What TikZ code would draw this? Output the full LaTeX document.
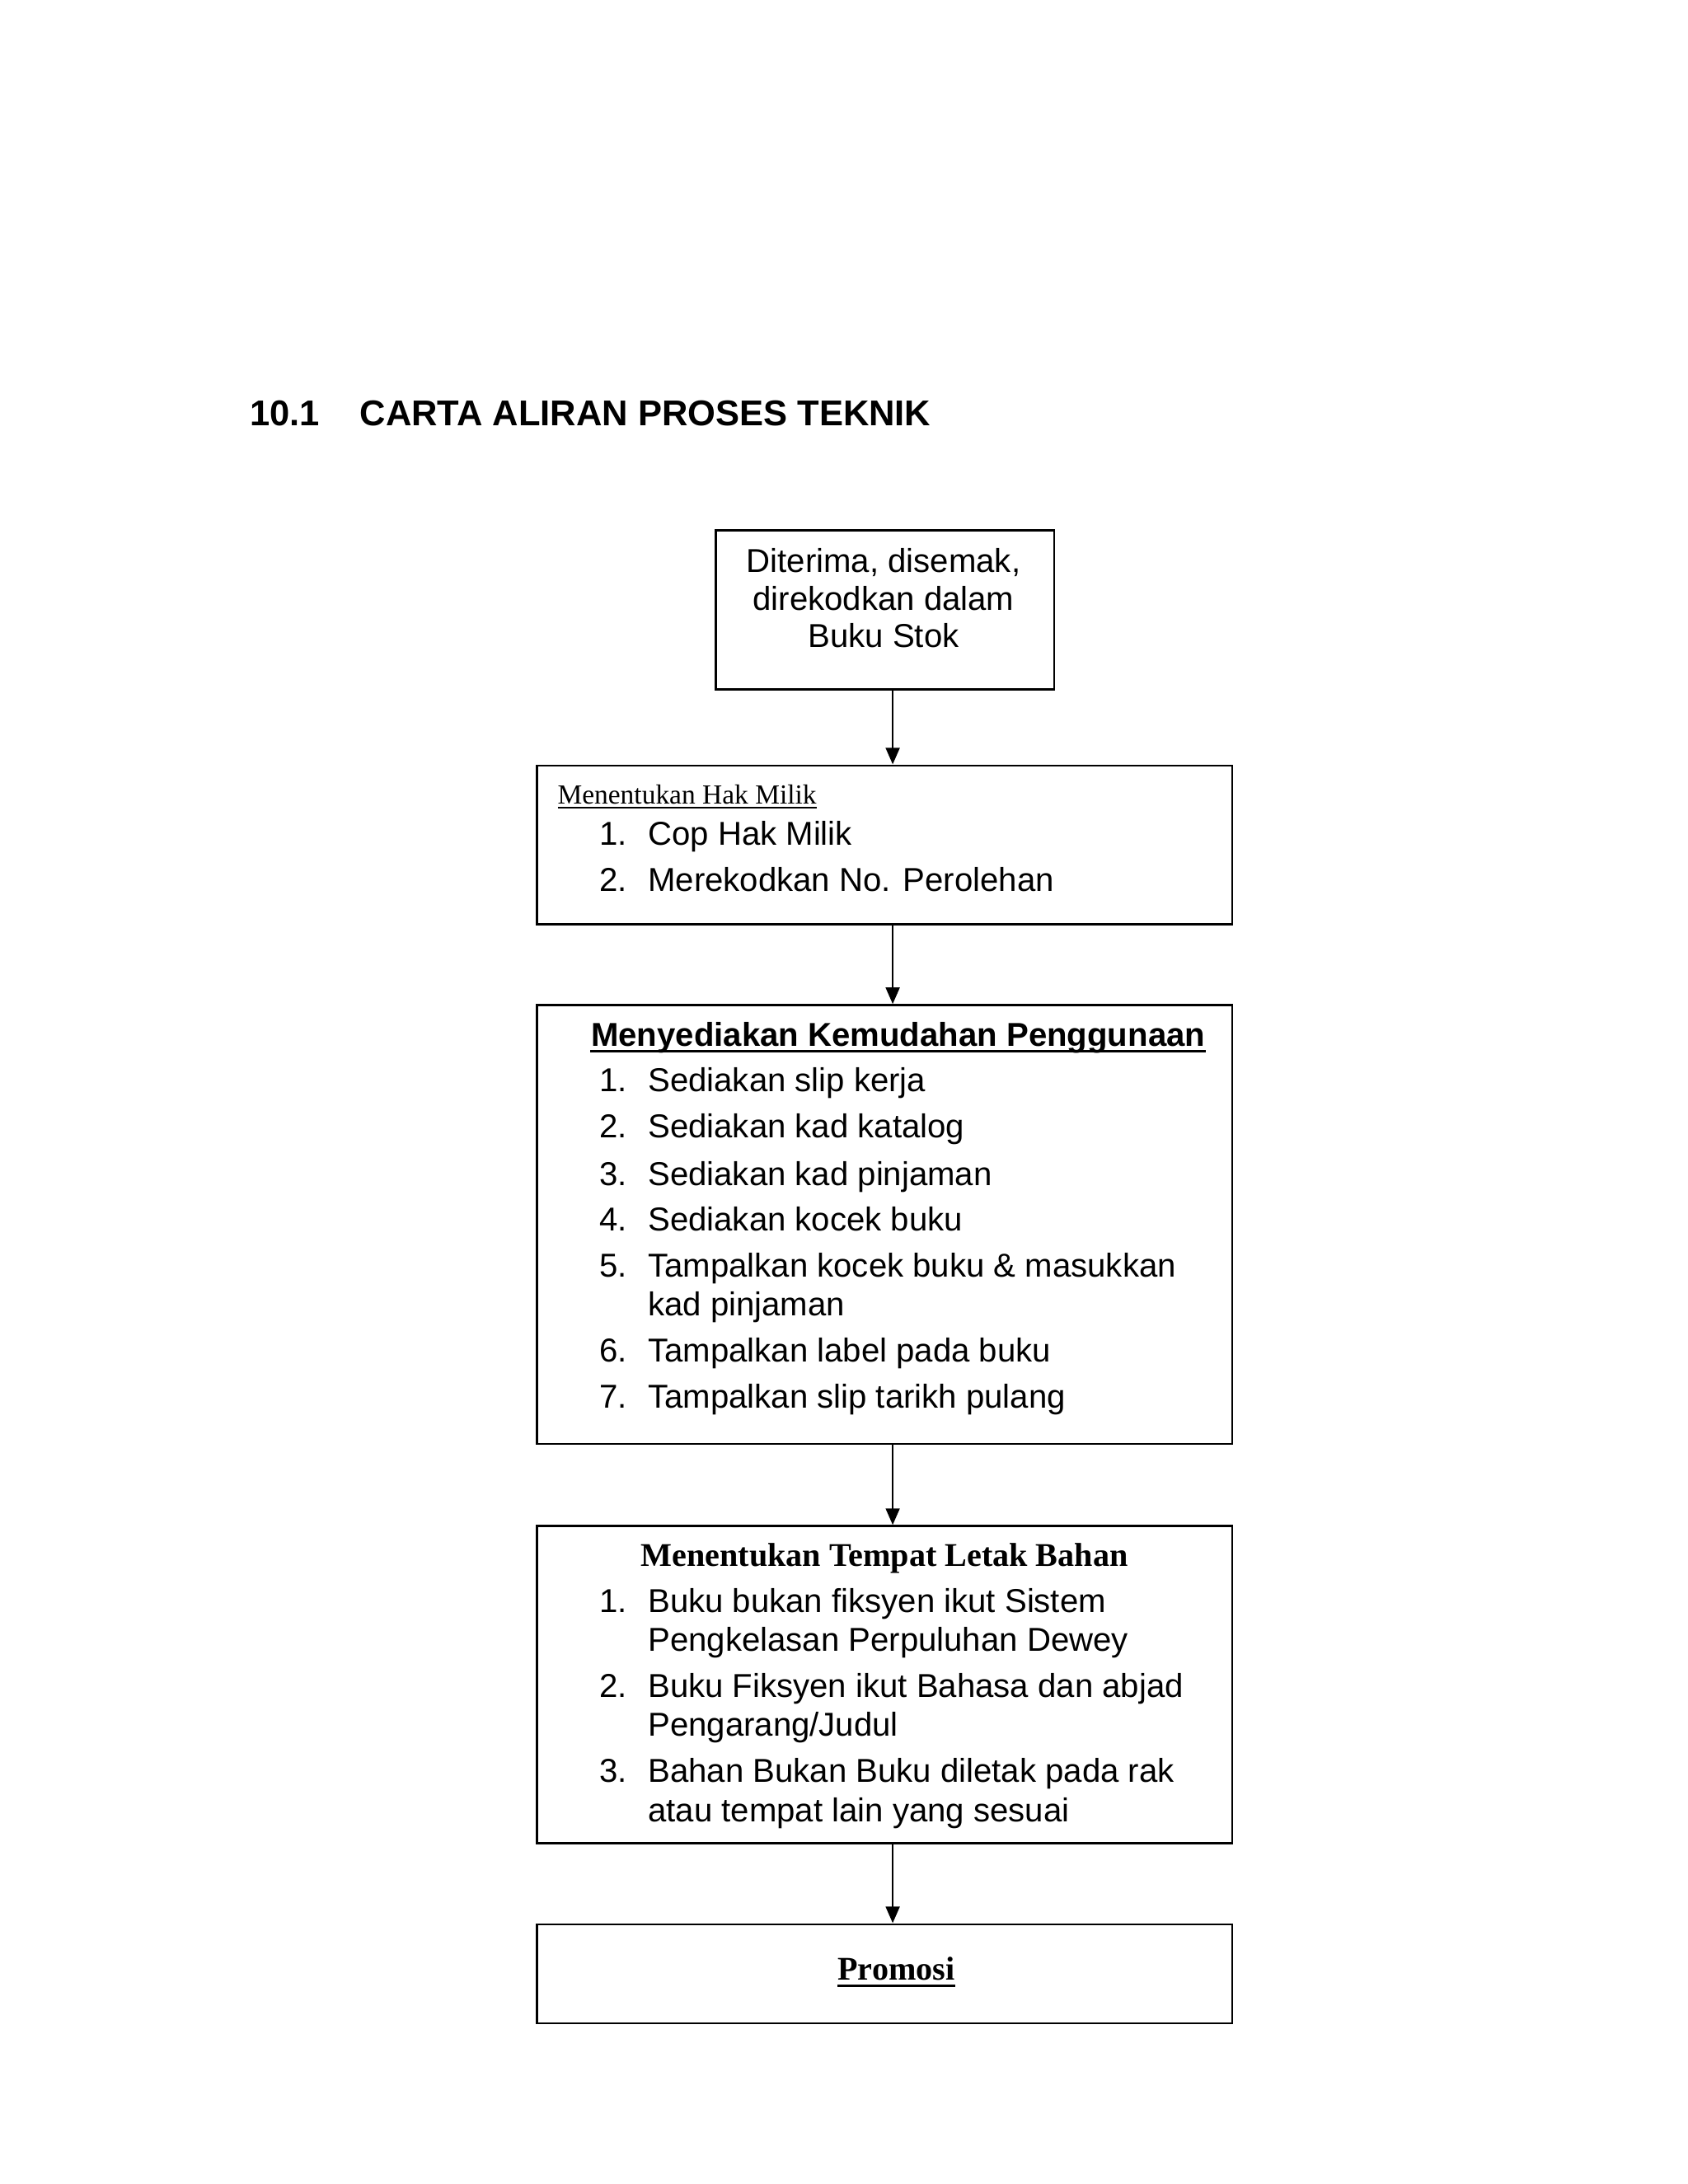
\documentclass[tikz,border=0pt]{standalone}
\usepackage{fontspec}
\newfontfamily\fsans{Liberation Sans}
\newfontfamily\fserif{Liberation Serif}
\usetikzlibrary{arrows.meta}
\begin{document}
\begin{tikzpicture}[x=1pt,y=-1pt,
  box/.style={draw, line width=0.8pt, inner sep=0pt, anchor=north west},
  txt/.style={anchor=base west, inner sep=0pt, font=\fsans\fontsize{12}{14}\selectfont},
  ctxt/.style={anchor=base, inner sep=0pt, font=\fsans\fontsize{12}{14}\selectfont},
  uline/.style={line width=0.7pt},
  arr/.style={line width=0.8pt, -{Triangle[length=6pt,width=5pt]}}]
\useasboundingbox (0,0) rectangle (612,792);
\fill[white] (0,0) rectangle (612,792);
% title
\node[txt, font=\fsans\bfseries\fontsize{13}{15}\selectfont] (tnum) at (90.4,154.5) {10.1};
\node[txt, font=\fsans\bfseries\fontsize{13}{15}\selectfont] (ttl) at (130.3,154.5) {CARTA ALIRAN PROSES TEKNIK};
% boxes
\node[box, minimum width=122.7pt, minimum height=57.6pt] (b1) at (259.1,191.9) {};
\node[box, minimum width=252pt, minimum height=57.6pt] (b2) at (194.4,277.2) {};
\node[box, minimum width=252pt, minimum height=159.1pt] (b3) at (194.4,364.1) {};
\node[box, minimum width=252pt, minimum height=115.1pt] (b4) at (194.4,553.0) {};
\node[box, minimum width=252pt, minimum height=35.9pt] (b5) at (194.4,697.4) {};
% box 1 text
\node[ctxt] (b1l1) at (320.4,207.6) {Diterima, disemak,};
\node[ctxt] (b1l2) at (320.4,221.2) {direkodkan dalam};
\node[ctxt] (b1l3) at (320.4,234.8) {Buku Stok};
% box 2 text
\node[txt, font=\fserif\fontsize{10}{12}\selectfont] (b2h) at (202,291.4) {\underline{Menentukan Hak Milik}};
\node[txt] (b2n1) at (217.2,306.5) {1.};
\node[txt] (b2t1) at (234.8,306.5) {Cop Hak Milik};
\node[txt] (b2n2) at (217.2,323.2) {2.};
\node[txt] (b2t2) at (234.8,323.2) {Merekodkan No. Perolehan};
% box 3 text
\node[txt, font=\fsans\bfseries\fontsize{12}{14}\selectfont] (b3h) at (214.1,379.3) {Menyediakan Kemudahan Penggunaan};
\draw[uline] ([yshift=-1.9pt]b3h.base west) -- ([yshift=-1.9pt]b3h.base east);
\node[txt] (b3n1) at (217.2,395.9) {1.};
\node[txt] (b3t1) at (234.8,395.9) {Sediakan slip kerja};
\node[txt] (b3n2) at (217.2,412.6) {2.};
\node[txt] (b3t2) at (234.8,412.6) {Sediakan kad katalog};
\node[txt] (b3n3) at (217.2,429.8) {3.};
\node[txt] (b3t3) at (234.8,429.8) {Sediakan kad pinjaman};
\node[txt] (b3n4) at (217.2,446.4) {4.};
\node[txt] (b3t4) at (234.8,446.4) {Sediakan kocek buku};
\node[txt] (b3n5) at (217.2,463.1) {5.};
\node[txt] (b3t5) at (234.8,463.1) {Tampalkan kocek buku \& masukkan};
\node[txt] (b3t5b) at (234.8,477.2) {kad pinjaman};
\node[txt] (b3n6) at (217.2,493.9) {6.};
\node[txt] (b3t6) at (234.8,493.9) {Tampalkan label pada buku};
\node[txt] (b3n7) at (217.2,510.6) {7.};
\node[txt] (b3t7) at (234.8,510.6) {Tampalkan slip tarikh pulang};
% box 4 text
\node[ctxt, font=\fserif\bfseries\fontsize{12}{14}\selectfont] (b4h) at (320.7,568.1) {Menentukan Tempat Letak Bahan};
\node[txt] (b4n1) at (217.2,584.8) {1.};
\node[txt] (b4t1) at (234.8,584.8) {Buku bukan fiksyen ikut Sistem};
\node[txt] (b4t1b) at (234.8,598.9) {Pengkelasan Perpuluhan Dewey};
\node[txt] (b4n2) at (217.2,615.6) {2.};
\node[txt] (b4t2) at (234.8,615.6) {Buku Fiksyen ikut Bahasa dan abjad};
\node[txt] (b4t2b) at (234.8,629.7) {Pengarang/Judul};
\node[txt] (b4n3) at (217.2,646.4) {3.};
\node[txt] (b4t3) at (234.8,646.4) {Bahan Bukan Buku diletak pada rak};
\node[txt] (b4t3b) at (234.8,660.5) {atau tempat lain yang sesuai};
% box 5 text
\node[ctxt, font=\fserif\bfseries\fontsize{12}{14}\selectfont] (b5t) at (325,718.1) {Promosi};
\draw[uline] ([yshift=-2pt]b5t.base west) -- ([yshift=-2pt]b5t.base east);
% arrows
\coordinate (ax) at (323.7,0);
\draw[arr] (b1.south -| ax) -- (b2.north -| ax);
\draw[arr] (b2.south -| ax) -- (b3.north -| ax);
\draw[arr] (b3.south -| ax) -- (b4.north -| ax);
\draw[arr] (b4.south -| ax) -- (b5.north -| ax);
\end{tikzpicture}
\end{document}
